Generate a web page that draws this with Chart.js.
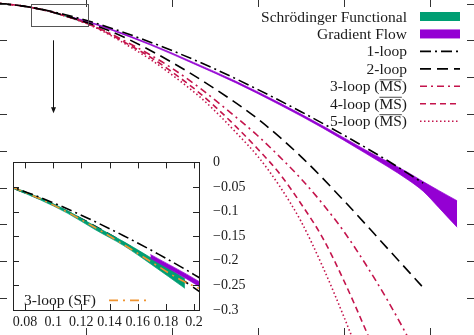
<!DOCTYPE html>
<html>
<head>
<meta charset="utf-8">
<script src="https://cdn.jsdelivr.net/npm/chart.js@4.4.1/dist/chart.umd.min.js"></script>
<style>
  html, body { margin: 0; padding: 0; background: #fff; }
  #wrap { position: relative; width: 474px; height: 335px; overflow: hidden; }
  #main { position: absolute; left: 0; top: 0; }
  #inset { position: absolute; left: 0; top: 140px; }
</style>
</head>
<body>
<div id="wrap">
  <canvas id="main" width="474" height="335"></canvas>
  <canvas id="inset" width="260" height="195"></canvas>
</div>
<script>
// perturbative curves
const loop1X = [0, 0.05, 0.075, 0.1, 0.125, 0.15, 0.175, 0.2, 0.25, 0.3, 0.4, 0.5, 0.6, 0.7, 0.8, 0.9, 0.984];
const loop1Y = [0, -0.031, -0.054, -0.082, -0.114, -0.149, -0.187, -0.228, -0.318, -0.418, -0.64, -0.89, -1.17, -1.47, -1.79, -2.13, -2.44];

const loop2X = [0, 0.05, 0.075, 0.1, 0.125, 0.15, 0.175, 0.2, 0.25, 0.3, 0.4, 0.5, 0.6, 0.7, 0.8, 0.9, 0.981];
const loop2Y = [0, -0.032, -0.056, -0.086, -0.122, -0.163, -0.207, -0.255, -0.36, -0.49, -0.80, -1.16, -1.57, -2.08, -2.68, -3.32, -3.84];

const ms3X = [0, 0.05, 0.1, 0.15, 0.2, 0.25, 0.3, 0.35, 0.4, 0.465, 0.55, 0.6, 0.65, 0.7, 0.75, 0.8, 0.85, 0.9, 0.94, 0.97];
const ms3Y = [0, -0.032, -0.086, -0.164, -0.262, -0.39, -0.54, -0.70, -0.88, -1.15, -1.55, -1.80, -2.08, -2.38, -2.72, -3.10, -3.54, -4.02, -4.44, -4.78];

const ms4X = [0, 0.05, 0.1, 0.15, 0.2, 0.25, 0.3, 0.35, 0.4, 0.465, 0.5, 0.55, 0.6, 0.65, 0.7, 0.75, 0.8, 0.85, 0.88];
const ms4Y = [0, -0.032, -0.086, -0.165, -0.266, -0.40, -0.56, -0.73, -0.93, -1.22, -1.40, -1.68, -1.98, -2.31, -2.72, -3.18, -3.77, -4.43, -4.85];

const ms5X = [0, 0.05, 0.1, 0.15, 0.2, 0.25, 0.3, 0.35, 0.4, 0.465, 0.5, 0.55, 0.6, 0.65, 0.7, 0.75, 0.8, 0.84];
const ms5Y = [0, -0.032, -0.087, -0.167, -0.27, -0.41, -0.58, -0.76, -0.97, -1.27, -1.46, -1.76, -2.08, -2.48, -2.96, -3.57, -4.26, -4.85];

// non-perturbative bands
const sfX = [0.0715, 0.09, 0.11, 0.13, 0.15, 0.17, 0.1935];
const sfHi = [-0.050, -0.071, -0.098, -0.130, -0.161, -0.195, -0.236];
const sfLo = [-0.053, -0.075, -0.103, -0.137, -0.169, -0.208, -0.256];

const gfX = [0.169, 0.2035, 0.25, 0.35, 0.45, 0.55, 0.65, 0.75, 0.85, 0.95, 0.984, 1.02, 1.063];
const gfHi = [-0.187, -0.242, -0.33, -0.55, -0.80, -1.06, -1.35, -1.66, -1.99, -2.30, -2.42, -2.54, -2.68];
const gfLo = [-0.195, -0.252, -0.342, -0.565, -0.818, -1.082, -1.375, -1.69, -2.035, -2.40, -2.55, -2.77, -3.04];

// 3-loop in SF scheme (inset only)
const sf3X = [0.0715, 0.09, 0.11, 0.13, 0.15, 0.17, 0.19, 0.2035];
const sf3Y = [-0.051, -0.073, -0.101, -0.133, -0.167, -0.203, -0.238, -0.256];

const mainXTicks = [0.2, 0.4, 0.6, 0.8, 1.0];
const mainYTicks = [0, -0.5, -1, -1.5, -2, -2.5, -3, -3.5, -4];
const insetXTicks = [0.08, 0.1, 0.12, 0.14, 0.16, 0.18, 0.2];
const insetYTicks = [0, -0.05, -0.1, -0.15, -0.2, -0.25, -0.3];

const GREEN = '#009e73', PURPLE = '#9400d3', RED = '#c4144c', ORANGE = '#ef9430', INK = '#1a1a1a';
const SERIF = '"Liberation Serif", "DejaVu Serif", serif';

const pts = (xs, ys) => xs.map((x, i) => ({x: x, y: ys[i]}));

function band(label, color, xs, hi, lo, order) {
  return [
    {label: label, data: pts(xs, hi), borderColor: color, backgroundColor: color, borderWidth: 0.7, fill: '+1', order: order},
    {data: pts(xs, lo), borderColor: color, backgroundColor: color, borderWidth: 0.7, fill: false, order: order}
  ];
}
function curve(label, color, xs, ys, dash, order) {
  return {label: label, data: pts(xs, ys), borderColor: color, borderWidth: 1.6, borderDash: dash, fill: false, order: order};
}

const dash1 = [11, 4, 2, 4], dash2 = [11, 6], dashMS3 = [7, 4, 2, 4], dashMS4 = [6, 4], dashMS5 = [1.5, 2.5], dashSF3 = [9, 5, 2, 5];

function tickMarks(ctx, chart, xs, ys, len) {
  const a = chart.chartArea, sx = chart.scales.x, sy = chart.scales.y;
  ctx.beginPath();
  xs.forEach(v => {
    const p = Math.round(sx.getPixelForValue(v)) + 0.5;
    ctx.moveTo(p, a.top); ctx.lineTo(p, a.top + len);
    ctx.moveTo(p, a.bottom); ctx.lineTo(p, a.bottom - len);
  });
  ys.forEach(v => {
    const p = Math.round(sy.getPixelForValue(v)) + 0.5;
    ctx.moveTo(a.left, p); ctx.lineTo(a.left + len, p);
    ctx.moveTo(a.right, p); ctx.lineTo(a.right - len, p);
  });
  ctx.stroke();
}

function lineSample(ctx, d, x0, x1, y) {
  ctx.save();
  ctx.strokeStyle = d.borderColor;
  ctx.lineWidth = d.borderWidth;
  ctx.setLineDash(d.borderDash || []);
  ctx.beginPath(); ctx.moveTo(x0, y); ctx.lineTo(x1, y); ctx.stroke();
  ctx.restore();
}

const mainDecor = {
  id: 'mainDecor',
  afterDatasetsDraw(chart) {
    const ctx = chart.ctx, sx = chart.scales.x, sy = chart.scales.y;
    ctx.save();
    ctx.strokeStyle = '#333';
    ctx.lineWidth = 1;
    tickMarks(ctx, chart, mainXTicks, mainYTicks, 7);
    // zoom window of the inset
    const rx0 = sx.getPixelForValue(0.0715), rx1 = sx.getPixelForValue(0.2035);
    const ry0 = sy.getPixelForValue(insetYTicks[0]), ry1 = sy.getPixelForValue(insetYTicks[insetYTicks.length - 1]);
    ctx.strokeStyle = '#555';
    ctx.strokeRect(Math.round(rx0) + 0.5, Math.round(ry0) + 0.5, Math.round(rx1 - rx0), Math.round(ry1 - ry0));
    // arrow pointing to the inset
    const ax = Math.round(sx.getPixelForValue(0.1235)) + 0.5;
    const ay0 = sy.getPixelForValue(-0.5), ay1 = sy.getPixelForValue(-1.49);
    ctx.strokeStyle = '#111';
    ctx.beginPath(); ctx.moveTo(ax, ay0); ctx.lineTo(ax, ay1 - 4); ctx.stroke();
    ctx.fillStyle = '#111';
    ctx.beginPath(); ctx.moveTo(ax - 2.5, ay1 - 6); ctx.lineTo(ax + 2.5, ay1 - 6); ctx.lineTo(ax, ay1); ctx.closePath(); ctx.fill();
    ctx.restore();
  },
  afterDraw(chart) {
    const ctx = chart.ctx;
    const items = chart.data.datasets.filter(d => d.label);
    ctx.save();
    ctx.font = '15.5px ' + SERIF;
    ctx.textAlign = 'right';
    ctx.textBaseline = 'alphabetic';
    items.forEach((d, i) => {
      const yc = 16.5 + i * 17.45, tx = 407;
      ctx.fillStyle = INK;
      ctx.fillText(d.label, tx, yc + 5);
      if (d.label.indexOf('(MS)') >= 0) {
        const wTail = ctx.measureText('MS)').width, wParen = ctx.measureText(')').width;
        ctx.strokeStyle = INK; ctx.lineWidth = 0.8;
        ctx.beginPath(); ctx.moveTo(tx - wTail, yc - 6.5); ctx.lineTo(tx - wParen, yc - 6.5); ctx.stroke();
      }
      if (d.fill) {
        ctx.fillStyle = d.backgroundColor;
        ctx.fillRect(420, yc - 4.5, 40, 9);
      } else {
        lineSample(ctx, d, 420, 460, yc);
      }
    });
    ctx.restore();
  }
};

new Chart(document.getElementById('main').getContext('2d'), {
  type: 'line',
  data: {
    datasets: [
      ...band('Schrödinger Functional', GREEN, sfX, sfHi, sfLo, 2),
      ...band('Gradient Flow', PURPLE, gfX, gfHi, gfLo, 1),
      curve('1-loop', '#000', loop1X, loop1Y, dash1, 0),
      curve('2-loop', '#000', loop2X, loop2Y, dash2, 0),
      curve('3-loop (MS)', RED, ms3X, ms3Y, dashMS3, 0),
      curve('4-loop (MS)', RED, ms4X, ms4Y, dashMS4, 0),
      curve('5-loop (MS)', RED, ms5X, ms5Y, dashMS5, 0)
    ]
  },
  options: {
    responsive: false,
    devicePixelRatio: 1,
    animation: false,
    events: [],
    layout: { padding: 0 },
    elements: { point: { radius: 0 }, line: { cubicInterpolationMode: 'monotone' } },
    scales: {
      x: { type: 'linear', display: false, min: 0, max: 1.1023, bounds: 'data' },
      y: { type: 'linear', display: false, min: -4.504, max: 0.0476, bounds: 'data' }
    },
    plugins: { legend: { display: false }, tooltip: { enabled: false } }
  },
  plugins: [mainDecor]
});

const insetDecor = {
  id: 'insetDecor',
  beforeDatasetsDraw(chart) {
    const a = chart.chartArea, ctx = chart.ctx;
    ctx.save();
    ctx.fillStyle = '#fff';
    ctx.fillRect(a.left, a.top, a.right - a.left, a.bottom - a.top);
    ctx.restore();
  },
  afterDatasetsDraw(chart) {
    const a = chart.chartArea, ctx = chart.ctx;
    ctx.save();
    ctx.strokeStyle = '#222';
    ctx.lineWidth = 1;
    ctx.strokeRect(Math.round(a.left) + 0.5, Math.round(a.top) + 0.5, Math.round(a.right - a.left), Math.round(a.bottom - a.top));
    tickMarks(ctx, chart, insetXTicks, insetYTicks, 6);
    const d = chart.data.datasets.find(s => s.label);
    const yc = a.top + 138;
    ctx.font = '15.5px ' + SERIF;
    ctx.fillStyle = INK;
    ctx.textAlign = 'left';
    ctx.fillText(d.label, a.left + 11, yc + 5);
    lineSample(ctx, d, a.left + 96, a.left + 135, yc);
    ctx.restore();
  }
};

new Chart(document.getElementById('inset').getContext('2d'), {
  type: 'line',
  data: {
    datasets: [
      ...band(undefined, GREEN, sfX, sfHi, sfLo, 3),
      ...band(undefined, PURPLE, gfX, gfHi, gfLo, 1),
      curve(undefined, '#000', loop1X, loop1Y, dash1, 0),
      curve(undefined, '#000', loop2X, loop2Y, dash2, 4),
      curve('3-loop (SF)', ORANGE, sf3X, sf3Y, dashSF3, 2)
    ]
  },
  options: {
    responsive: false,
    devicePixelRatio: 1,
    animation: false,
    events: [],
    layout: { padding: { left: 13, top: 15, right: 11, bottom: 0 } },
    elements: { point: { radius: 0 }, line: { cubicInterpolationMode: 'monotone' } },
    scales: {
      x: {
        type: 'linear', position: 'bottom', min: 0.0715, max: 0.2035, bounds: 'data',
        afterBuildTicks: s => { s.ticks = insetXTicks.map(v => ({value: v})); },
        afterFit: s => { s.height = 25; },
        grid: { display: false, drawTicks: false },
        border: { display: false },
        ticks: { autoSkip: false, maxRotation: 0, padding: 4, color: INK, font: { family: SERIF, size: 14 },
                 callback: v => String(v) }
      },
      y: {
        type: 'linear', position: 'right', min: -0.3, max: 0, bounds: 'data',
        afterBuildTicks: s => { s.ticks = insetYTicks.map(v => ({value: v})); },
        afterFit: s => { s.width = 50; },
        grid: { display: false, drawTicks: false },
        border: { display: false },
        ticks: { autoSkip: false, padding: 14, color: INK, font: { family: SERIF, size: 14 },
                 callback: v => v === 0 ? '0' : '\u2212' + String(-v) }
      }
    },
    plugins: { legend: { display: false }, tooltip: { enabled: false } }
  },
  plugins: [insetDecor]
});
</script>
</body>
</html>
